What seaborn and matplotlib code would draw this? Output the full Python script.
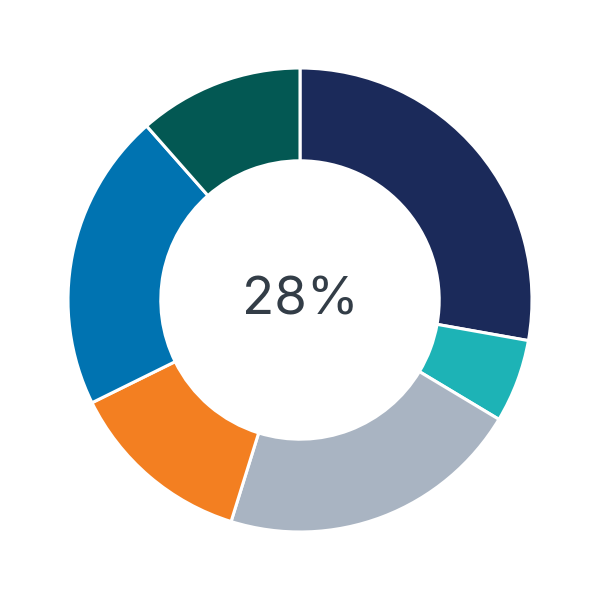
import seaborn as sns
import matplotlib
matplotlib.use('Agg')
import matplotlib.pyplot as plt

# Slice shares, clockwise from 12 o'clock
labels = ['Navy', 'Teal', 'Gray', 'Orange', 'Blue', 'Green']
shares = [27.8, 5.8, 21.2, 12.9, 20.8, 11.5]
colors = ['#1B2A5A', '#1DB3B6', '#A9B4C2', '#F37F21', '#0073B1', '#035853']
center_label = '28%'

sns.set_theme(style='white')
plt.rcParams['font.family'] = ['Inter', 'DejaVu Sans']

fig = plt.figure(figsize=(6, 6), dpi=100)
ax = fig.add_axes([0, 0, 1, 1])

ax.pie(shares, colors=colors, startangle=90, counterclock=False,
       radius=1.0,
       wedgeprops=dict(width=0.4, edgecolor='white', linewidth=2.2))

ax.text(0, -0.005, center_label, ha='center', va='center',
        fontsize=38, color='#333D47')

lim = 300 / 232
ax.set_xlim(-lim, lim)
ax.set_ylim(-lim, lim)
ax.set_aspect('equal')
ax.axis('off')

fig.savefig('out.png', dpi=100, facecolor='white')
